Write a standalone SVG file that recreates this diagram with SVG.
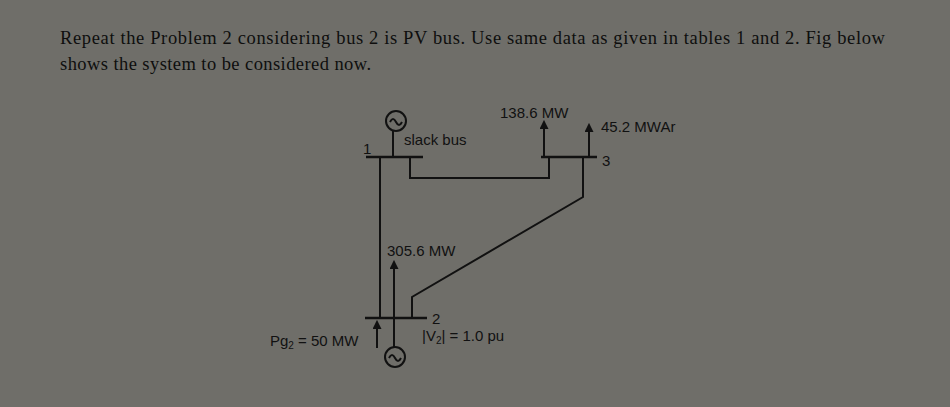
<svg xmlns="http://www.w3.org/2000/svg" width="950" height="407" viewBox="0 0 950 407">
<defs>
<style>
.t{font-family:"Liberation Serif",serif;font-size:18.5px;fill:#0e0e0e}
.l{font-family:"Liberation Sans",Arial,sans-serif;font-size:15px;fill:#111}
.w{stroke:#111;stroke-width:2;fill:none}
.b{stroke:#111;stroke-width:2.5;fill:none}
</style>
<marker id="ah" viewBox="0 0 10 10" refX="1" refY="5" markerWidth="4.5" markerHeight="4.5" orient="auto"><path d="M0,0 L10,5 L0,10 Z" fill="#111"/></marker>
</defs>
<rect width="950" height="407" fill="#6f6e69"/>
<text class="t" x="60" y="44" textLength="825" lengthAdjust="spacing">Repeat the Problem 2 considering bus 2 is PV bus. Use same data as given in tables 1 and 2. Fig below</text>
<text class="t" x="60" y="70" textLength="311" lengthAdjust="spacing">shows the system to be considered now.</text>
<g id="connectors">
<path class="w" d="M410,157 V178 H549 V157"/>
<path class="w" d="M583,157 V197 L412,297 V318"/>
<path class="w" d="M380,157 V318"/>
</g>
<g id="bus1">
<path class="b" d="M366,157 H423"/>
<circle class="w" cx="396" cy="121" r="10"/>
<path class="w" d="M390,122 q3,-6 6,0 t6,0"/>
<path class="w" d="M393,131 V157"/>
<text class="l" x="363" y="154">1</text>
<text class="l" x="404" y="145">slack bus</text>
</g>
<g id="bus3">
<path class="b" d="M541,157 H597"/>
<path class="w" d="M544,157 V128" marker-end="url(#ah)"/>
<path class="w" d="M589,157 V131" marker-end="url(#ah)"/>
<text class="l" x="500" y="118">138.6 MW</text>
<text class="l" x="601" y="132">45.2 MWAr</text>
<text class="l" x="602" y="166">3</text>
</g>
<g id="bus2">
<path class="b" d="M365,318 H427"/>
<path class="w" d="M394,318 V268" marker-end="url(#ah)"/>
<path class="w" d="M394,318 V347"/>
<circle class="w" cx="395" cy="357" r="10"/>
<path class="w" d="M389,358 q3,-6 6,0 t6,0"/>
<path class="w" d="M377,348 V328" marker-end="url(#ah)"/>
<text class="l" x="387" y="256">305.6 MW</text>
<text class="l" x="432" y="324">2</text>
<text class="l" x="422" y="341">|V<tspan font-size="10" dy="3">2</tspan><tspan dy="-3">| = 1.0 pu</tspan></text>
<text class="l" x="270" y="346">Pg<tspan font-size="10" dy="3">2</tspan><tspan dy="-3"> = 50 MW</tspan></text>
</g>
</svg>
